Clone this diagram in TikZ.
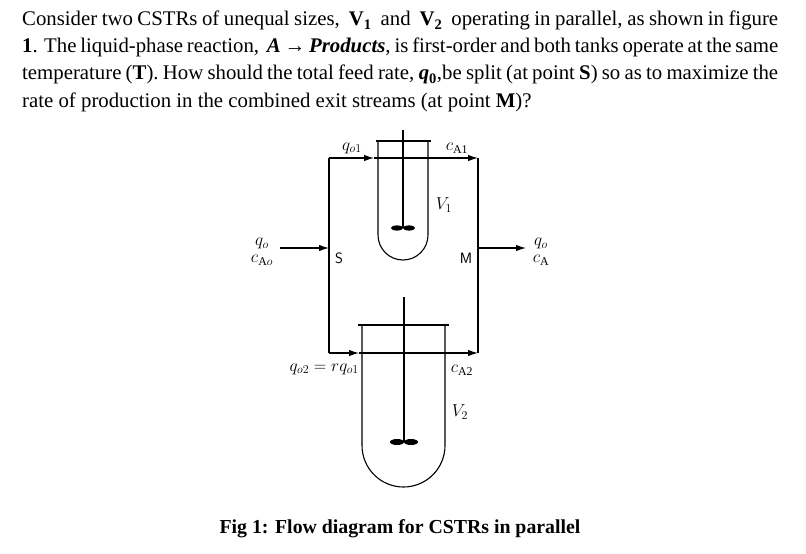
\documentclass[tikz,border=0pt]{standalone}
\usepackage{fontspec}
\setmainfont{Liberation Serif}
\newfontfamily\lm{Latin Modern Roman}
\newfontfamily\lmsans{Latin Modern Sans}
\usetikzlibrary{arrows.meta}
\begin{document}
\begin{tikzpicture}[x=1pt,y=-1pt,
  txt/.style={anchor=base west,inner sep=0pt,font=\fontsize{20.8}{24}\selectfont},
  lbl/.style={inner sep=0pt,font=\lm\fontsize{17}{19}\selectfont},
  sl/.style={inner sep=0pt,font=\lmsans\fontsize{15}{17}\selectfont},
  pipe/.style={line width=1.2pt},
  fl/.style={pipe,-{Latex[length=10pt,width=6.5pt]}},
  tank/.style={line width=1.1pt}]
\useasboundingbox (0,0) rectangle (806,554);
\node[txt] (l1) at (22,26) {\parbox{756pt}{\parfillskip=0pt Consider two CSTRs of unequal sizes, \ \textbf{V\textsubscript{1}} \ and \ \textbf{V\textsubscript{2}} \ operating in parallel, as shown in figure}};
\node[txt] (l2) at (22,53) {\parbox{756pt}{\parfillskip=0pt \textbf{1}. The liquid-phase reaction, \ \textbf{\textit{A} → \textit{Products}}, is first-order and both tanks operate at the same}};
\node[txt] (l3) at (22,80) {\parbox{756pt}{\parfillskip=0pt temperature (\textbf{T}). How should the total feed rate, \textbf{\textit{q}\textsubscript{0}},be split (at point \textbf{S}) so as to maximize the}};
\node[txt] (l4) at (22,107) {rate of production in the combined exit streams (at point \textbf{M})?};
% coordinates
\coordinate (inS) at (280,248); \coordinate (S) at (329,248);
\coordinate (TL) at (329,158); \coordinate (BL) at (329,353);
\coordinate (TR) at (478,158); \coordinate (BR) at (478,353);
\coordinate (M) at (478,248); \coordinate (out) at (526,248);
\coordinate (t1in) at (374,158); \coordinate (t2in) at (359,353);
% pipes
\draw[fl] (inS) -- (S);
\draw[pipe] (BL) -- (TL);
\draw[fl] (TL) -- (t1in);
\draw[fl] (t1in) -- (TR);
\draw[pipe] (TR) -- (BR);
\draw[fl] (BL) -- (t2in);
\draw[fl] (t2in) -- (BR);
\draw[fl] (M) -- (out);
% tank 1
\draw[tank] (376,141) -- (431,141);
\draw[tank] (378,141) -- (378,235) arc[start angle=180,end angle=0,radius=25] -- (428,141);
\draw[tank] (403,130) -- (403,228);
\fill (397,228) ellipse[x radius=6,y radius=2.6];
\fill (409,228) ellipse[x radius=6,y radius=2.6];
% tank 2
\draw[tank] (358,325) -- (449,325);
\draw[tank] (362,325) -- (362,445.5) arc[start angle=180,end angle=0,radius=41.5] -- (445,325);
\draw[tank] (404,297) -- (404,442);
\fill (397,442) ellipse[x radius=7,y radius=3];
\fill (411,442) ellipse[x radius=7,y radius=3];
% labels
\node[lbl] (q01) at (352,148) {$q_{o1}$};
\node[lbl] (cA1) at (457,148) {$c_{\mathrm{A1}}$};
\node[lbl] (V1) at (444,205) {$V_1$};
\node[lbl,align=center] (qin) at (262,252) {$q_o$\\[-2pt]$c_{\mathrm{A}o}$};
\node[sl] (Sl) at (339,258) {S};
\node[sl] (Ml) at (466,258) {M};
\node[lbl,align=center] (qout) at (541,252) {$q_o$\\[-2pt]$c_{\mathrm{A}}$};
\node[lbl,anchor=east] (q02) at (359,369) {$q_{o2}=rq_{o1}$};
\node[lbl] (cA2) at (462,370) {$c_{\mathrm{A2}}$};
\node[lbl] (V2) at (460,412) {$V_2$};
\node[anchor=base,inner sep=0pt,font=\bfseries\fontsize{19.8}{23}\selectfont] (cap) at (400,533) {Fig 1: Flow diagram for CSTRs in parallel};
\end{tikzpicture}
\end{document}
